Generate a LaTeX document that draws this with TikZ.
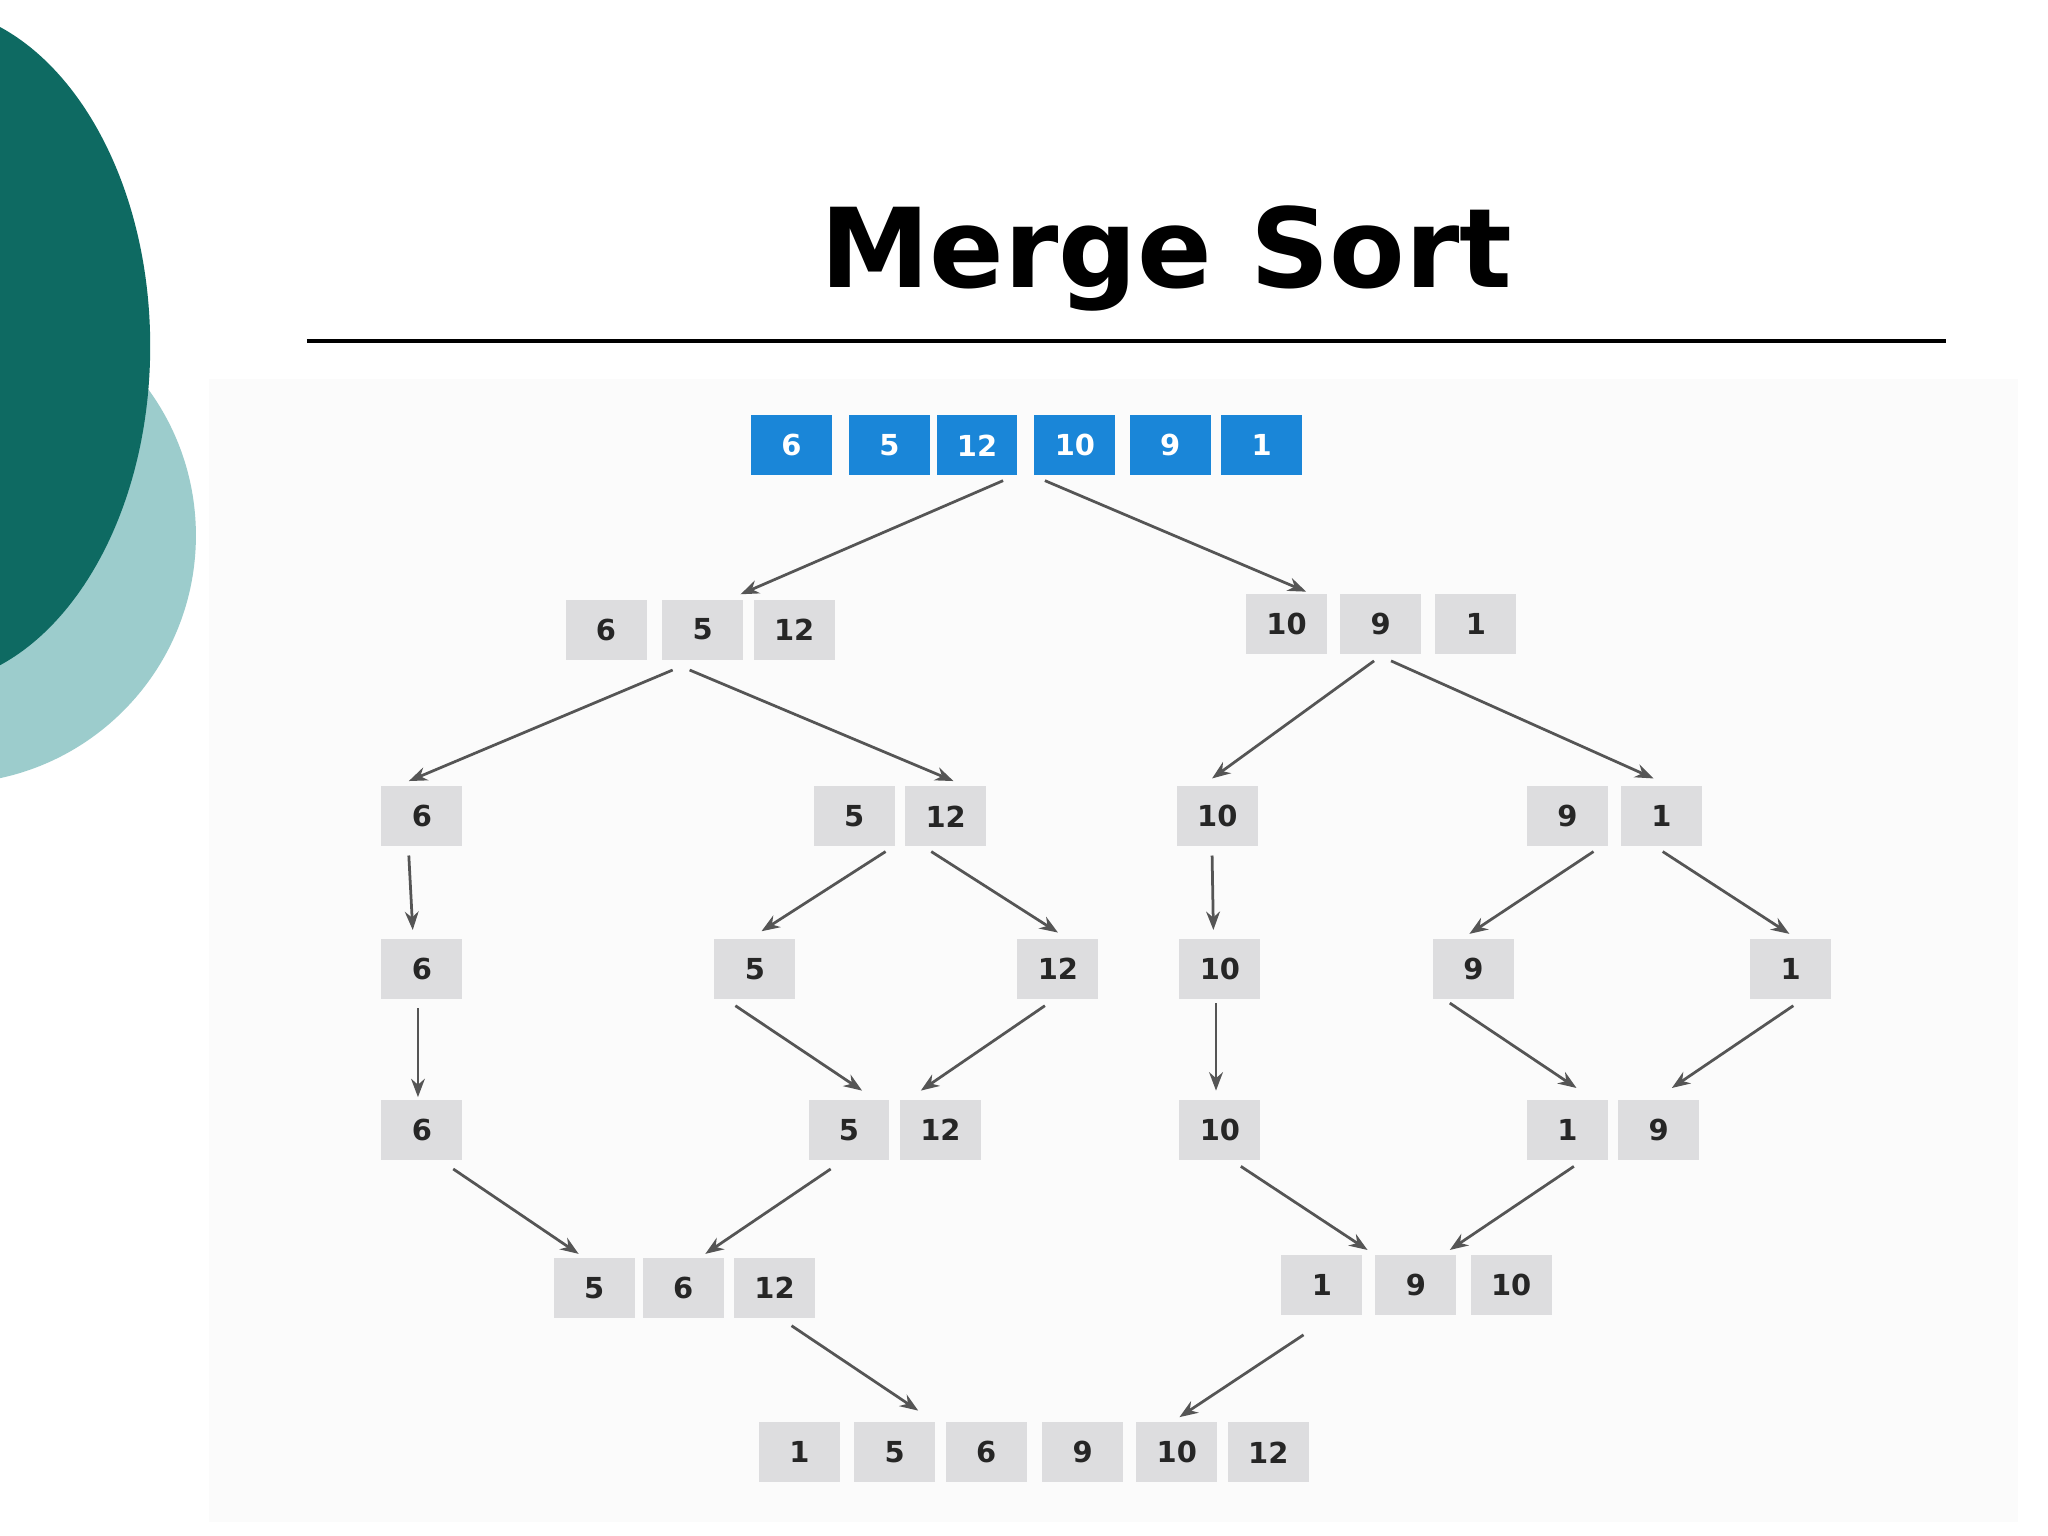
\documentclass[tikz,border=0pt]{standalone}
\usepackage{fontspec}
\setmainfont{DejaVu Sans}
\usetikzlibrary{calc,arrows.meta}
\definecolor{tealdark}{HTML}{0E6A62}
\definecolor{teallight}{HTML}{9CCCCC}
\definecolor{cellblue}{HTML}{1A86D8}
\definecolor{cellgray}{HTML}{DDDDDF}
\definecolor{arrgray}{HTML}{555555}
\tikzset{
  cell/.style={fill=cellgray, minimum width=0.62cm, minimum height=0.46cm, inner sep=0pt, font=\bfseries\fontsize{6.3}{7}\selectfont, text=black!85},
  topcell/.style={cell, fill=cellblue, text=white},
  arr/.style={-{Stealth[length=4pt,width=3pt]}, draw=arrgray, line width=0.6pt}
}
\begin{document}
\begin{tikzpicture}
\useasboundingbox (0,0) rectangle (15.68,-11.76);
\fill[white] (0,0) rectangle (15.68,-11.76);
\fill[black!1.5] (1.6,-2.9) rectangle (15.45,-11.65);
% left decoration
\fill[teallight] (-0.4,-4.1) circle (1.9);
\fill[tealdark] (-0.6,-2.65) ellipse (1.75 and 2.6);
% title
\node (title) at (8.93,-1.98) {\bfseries\fontsize{24}{26}\selectfont Merge Sort};
\draw[line width=0.8pt] (2.35,-2.61) -- (14.9,-2.61);

% row 1
\node[topcell] (t1) at (6.06,-3.41) {6};
\node[topcell] (t2) at (6.81,-3.41) {5};
\node[topcell] (t3) at (7.48,-3.41) {12};
\node[topcell] (t4) at (8.23,-3.41) {10};
\node[topcell] (t5) at (8.96,-3.41) {9};
\node[topcell] (t6) at (9.66,-3.41) {1};
% row 2
\node[cell] (a1) at (4.64,-4.82) {6};
\node[cell] (a2) at (5.38,-4.82) {5};
\node[cell] (a3) at (6.08,-4.82) {12};
\node[cell] (b1) at (9.85,-4.78) {10};
\node[cell] (b2) at (10.57,-4.78) {9};
\node[cell] (b3) at (11.30,-4.78) {1};
% row 3
\node[cell] (c) at (3.23,-6.25) {6};
\node[cell] (d1) at (6.54,-6.25) {5};
\node[cell] (d2) at (7.24,-6.25) {12};
\node[cell] (e) at (9.32,-6.25) {10};
\node[cell] (f1) at (12.00,-6.25) {9};
\node[cell] (f2) at (12.72,-6.25) {1};
% row 4
\node[cell] (g) at (3.23,-7.42) {6};
\node[cell] (h) at (5.78,-7.42) {5};
\node[cell] (i) at (8.10,-7.42) {12};
\node[cell] (j) at (9.34,-7.42) {10};
\node[cell] (k) at (11.28,-7.42) {9};
\node[cell] (m) at (13.71,-7.42) {1};
% row 5
\node[cell] (n) at (3.23,-8.65) {6};
\node[cell] (o1) at (6.50,-8.65) {5};
\node[cell] (o2) at (7.20,-8.65) {12};
\node[cell] (p) at (9.34,-8.65) {10};
\node[cell] (q1) at (12.00,-8.65) {1};
\node[cell] (q2) at (12.70,-8.65) {9};
% row 6
\node[cell] (s1) at (4.55,-9.86) {5};
\node[cell] (s2) at (5.23,-9.86) {6};
\node[cell] (s3) at (5.93,-9.86) {12};
\node[cell] (u1) at (10.12,-9.84) {1};
\node[cell] (u2) at (10.84,-9.84) {9};
\node[cell] (u3) at (11.57,-9.84) {10};
% row 7
\node[cell] (v1) at (6.12,-11.12) {1};
\node[cell] (v2) at (6.85,-11.12) {5};
\node[cell] (v3) at (7.55,-11.12) {6};
\node[cell] (v4) at (8.29,-11.12) {9};
\node[cell] (v5) at (9.01,-11.12) {10};
\node[cell] (v6) at (9.71,-11.12) {12};

% split
\draw[arr] ($(t3)+(0.20,-0.27)$) -- ($(a2)+(0.29,0.27)$);
\draw[arr] ($(t4)+(-0.23,-0.27)$) -- ($(b1)+(0.15,0.25)$);
\draw[arr] ($(a2)+(-0.23,-0.31)$) -- ($(c)+(-0.10,0.27)$);
\draw[arr] ($(a2)+(-0.10,-0.31)$) -- ($(d2)+(0.06,0.27)$);
\draw[arr] ($(b2)+(-0.05,-0.28)$) -- ($(e)+(-0.04,0.29)$);
\draw[arr] ($(b2)+(0.08,-0.28)$) -- ($(f2)+(-0.06,0.29)$);
\draw[arr] ($(c)+(-0.10,-0.30)$) -- ($(g)+(-0.07,0.30)$);
\draw[arr] ($(d1)+(0.24,-0.27)$) -- ($(h)+(0.05,0.29)$);
\draw[arr] ($(d2)+(-0.11,-0.27)$) -- ($(i)+(0,0.28)$);
\draw[arr] ($(e)+(-0.04,-0.30)$) -- ($(j)+(-0.05,0.30)$);
\draw[arr] ($(f1)+(0.20,-0.27)$) -- ($(k)+(-0.03,0.27)$);
\draw[arr] ($(f2)+(0.01,-0.27)$) -- ($(m)+(-0.01,0.27)$);
% merge
\draw[arr] ($(g)+(-0.03,-0.30)$) -- ($(n)+(-0.03,0.25)$);
\draw[arr] ($(h)+(-0.15,-0.28)$) -- ($(o1)+(0.10,0.30)$);
\draw[arr] ($(i)+(-0.10,-0.28)$) -- ($(o2)+(-0.15,0.30)$);
\draw[arr] ($(j)+(-0.03,-0.26)$) -- ($(p)+(-0.03,0.30)$);
\draw[arr] ($(k)+(-0.18,-0.26)$) -- ($(q1)+(0.07,0.32)$);
\draw[arr] ($(m)+(0.02,-0.28)$) -- ($(q2)+(0.10,0.32)$);
\draw[arr] ($(n)+(0.24,-0.30)$) -- ($(s1)+(-0.12,0.26)$);
\draw[arr] ($(o1)+(-0.14,-0.30)$) -- ($(s2)+(0.17,0.26)$);
\draw[arr] ($(p)+(0.16,-0.28)$) -- ($(u1)+(0.35,0.27)$);
\draw[arr] ($(q1)+(0.05,-0.28)$) -- ($(u2)+(0.26,0.27)$);
\draw[arr] ($(s3)+(0.13,-0.29)$) -- ($(v2)+(0.18,0.32)$);
\draw[arr] ($(u1)+(-0.14,-0.38)$) -- ($(v5)+(0.02,0.27)$);
\end{tikzpicture}
\end{document}
